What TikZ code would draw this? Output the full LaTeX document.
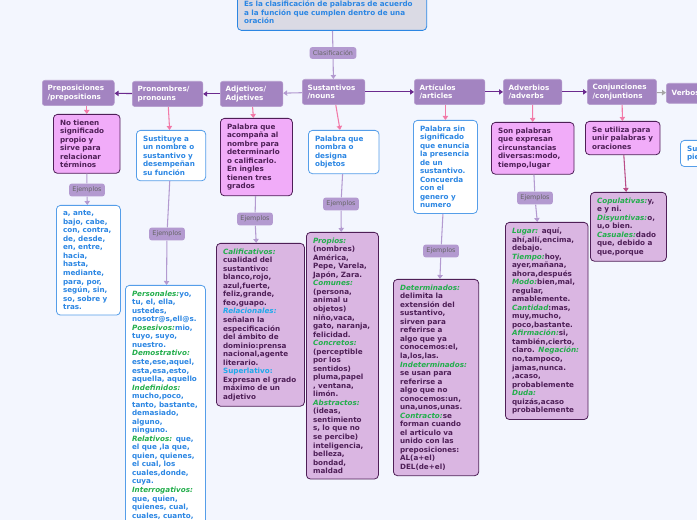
\documentclass[tikz,border=0pt]{standalone}
\usepackage{fontspec}
\setmainfont{DejaVu Sans}
\usetikzlibrary{arrows.meta}
\definecolor{bg}{HTML}{F3F6FE}
\definecolor{main}{HTML}{A384C1}
\definecolor{labc}{HTML}{B39AD0}
\definecolor{pinkf}{HTML}{F1ACF9}
\definecolor{lilac}{HTML}{DAB6E2}
\definecolor{dark}{HTML}{4E1F57}
\definecolor{blu}{HTML}{2B86E3}
\definecolor{grn}{HTML}{23AE4C}
\definecolor{arr}{HTML}{6B2A8E}
\definecolor{pnk}{HTML}{F27AA8}
\newcommand{\gr}[1]{{\color{grn}\itshape #1}}
\newcommand{\cy}[1]{{\color{blu!70!cyan}\itshape #1}}
\tikzset{
  txt/.style={font=\fontsize{5.4}{6.4}\selectfont\bfseries, align=left},
  main/.style={txt, fill=main, draw=main!80, rounded corners=2pt, text=white, inner xsep=4pt, inner ysep=2pt, minimum height=19pt, anchor=north west, text width=#1},
  lab/.style={fill=labc, rounded corners=2pt, text=black!60, font=\fontsize{4.8}{5.5}\selectfont, inner sep=2.5pt},
  pk/.style={txt, fill=pinkf, draw=dark, line width=.6pt, rounded corners=3pt, text=dark, inner xsep=5pt, inner ysep=4pt, anchor=north west, text width=#1},
  wh/.style={txt, fill=white, draw=blu!80, line width=.6pt, rounded corners=3pt, text=blu, inner xsep=5pt, inner ysep=4pt, anchor=north west, text width=#1},
  li/.style={txt, fill=lilac, draw=dark, line width=.6pt, rounded corners=3pt, text=dark, inner xsep=5pt, inner ysep=4pt, anchor=north west, text width=#1},
  darr/.style={-{Triangle[length=3pt,width=4pt]}, draw=arr, line width=.8pt},
  parr/.style={-{Triangle[length=3pt,width=4pt]}, draw=pnk, line width=.8pt},
  larr/.style={-{Triangle[length=3pt,width=4pt]}, draw=labc, line width=.8pt},
  lline/.style={draw=labc, line width=.8pt}
}
\begin{document}
\hyphenpenalty=10000 \exhyphenpenalty=10000
\begin{tikzpicture}[x=0.75pt,y=-0.75pt]
\clip (0,0) rectangle (697,520);
\fill[bg] (0,0) rectangle (697,520);

% top
\node[txt, fill=blue!15!gray!25, draw=blu, line width=.6pt, rounded corners=3pt, text=blu, anchor=north west, text width=132pt, inner xsep=5pt, inner ysep=3pt, minimum height=27pt] (top) at (237,-6) {Es la clasificación de palabras de acuerdo a la función que cumplen dentro de una oración};
\node[lab] (clas) at (333,53) {Clasificación};

% main row
\node[main=39pt] (sus) at (302,79) {Sustantivos\\/nouns};
\node[main=39pt] (adj) at (220,81) {Adjetivos/\\Adjetives};
\node[main=45pt] (pro) at (132,81) {Pronombres/\\pronouns};
\node[main=46pt] (pre) at (42,80) {Preposiciones\\/prepositions};
\node[main=45pt] (art) at (414,79) {Artículos\\/articles};
\node[main=36pt] (adv) at (503,79) {Adverbios\\/adverbs};
\node[main=44pt] (con) at (587,79) {Conjunciones\\/conjuntions};
\node[main=40pt, minimum height=15pt] (ver) at (666,83) {Verbos};

\draw[lline] (top) -- (clas);
\draw[larr] (clas) -- (sus);
\draw[larr] (sus) -- (adj);
\draw[darr] (adj) -- (pro);
\draw[darr] (pro) -- (pre);
\draw[darr] (sus) -- (art);
\draw[darr] (art) -- (adv);
\draw[darr] (adv) -- (con);
\draw[-{Triangle[length=3pt,width=4pt]}, draw=gray!70, line width=.8pt] (con) -- (ver);

% preposiciones
\node[pk=40pt] (pred) at (53,114) {No tienen significado propio y sirve para relacionar términos};
\node[lab] (pree) at (87,190) {Ejemplos};
\node[wh=38pt] (prex) at (56,205) {a, ante, bajo, cabe, con, contra, de, desde, en, entre, hacia, hasta, mediante, para, por, según, sin, so, sobre y tras.};
\draw[parr] (pre.south -| pred) -- (pred);
\draw[lline] (pred) -- (pree);
\draw[larr] (pree) -- (prex);

% pronombres
\node[wh=42pt] (prod) at (136,130) {Sustituye a un nombre o sustantivo y desempeñan su función};
\node[lab] (proe) at (167,234) {Ejemplos};
\node[wh=50pt] (prox) at (125,285) {\gr{Personales:}yo, tu, el, ella, ustedes, nosotr@s,ell@s. \gr{Posesivos:}mio, tuyo, suyo, nuestro. \gr{Demostrativo:} este,ese,aquel, esta,esa,esto, aquella, aquello \gr{Indefinidos:} mucho,poco, tanto, bastante, demasiado, alguno, ninguno. \gr{Relativos:} que, el que ,la que, quien, quienes, el cual, los cuales,donde, cuya. \gr{Interrogativos:} que, quien, quienes, cual, cuales, cuanto, cuantos};
\draw[parr] (pro) -- (prod);
\draw[lline] (prod) -- (proe);
\draw[larr] (proe) -- (prox);

% adjetivos
\node[pk=44pt] (adjd) at (220,118) {Palabra que acompaña al nombre para determinarlo o calificarlo. En ingles tienen tres grados};
\node[lab] (adje) at (255,219) {Ejemplos};
\node[li=56pt] (adjx) at (216,243) {\gr{Calificativos:} cualidad del sustantivo: blanco,rojo, azul,fuerte, feliz,grande, feo,guapo. \cy{Relacionales:} señalan la especificación del ámbito de dominio:prensa nacional,agente literario. {\color{blu!70!cyan}Superlativo:} Expresan el grado máximo de un adjetivo};
\draw[parr] (adj) -- (adjd);
\draw[lline] (adjd) -- (adje);
\draw[larr] (adje) -- (adjx);

% sustantivos
\node[wh=43pt] (susd) at (308,130) {Palabra que nombra o designa objetos};
\node[lab] (suse) at (341,204) {Ejemplos};
\node[li=44pt] (susx) at (306,232) {\gr{Propios:} (nombres) América, Pepe, Varela, Japón, Zara. \gr{Comunes:} (persona, animal u objetos) niño,vaca, gato, naranja, felicidad. \gr{Concretos:} (perceptible por los sentidos) pluma,papel , ventana, limón. \gr{Abstractos:} (ideas, sentimiento s, lo que no se percibe) inteligencia, belleza, bondad, maldad};
\draw[parr] (sus) -- (susd);
\draw[lline] (susd) -- (suse);
\draw[larr] (suse) -- (susx);

% articulos
\node[wh=38pt] (artd) at (413,120) {Palabra sin significado que enuncia la presencia de un sustantivo. Concuerda con el genero y numero};
\node[lab] (arte) at (441,251) {Ejemplos};
\node[li=54pt] (artx) at (393,279) {\gr{Determinados:} delimita la extensión del sustantivo, sirven para referirse a algo que ya conocemos:el, la,los,las. \gr{Indeterminados:} se usan para referirse a algo que no conocemos:un, una,unos,unas. \gr{Contracto:}se forman cuando el articulo va unido con las preposiciones: AL(a+el) DEL(de+el)};
\draw[parr] (art.south -| artd) -- (artd);
\draw[lline] (artd) -- (arte);
\draw[larr] (arte) -- (artx);

% adverbios
\node[pk=52pt] (advd) at (491,122) {Son palabras que expresan circunstancias diversas:modo, tiempo,lugar};
\node[lab] (adve) at (535,198) {Ejemplos};
\node[li=52pt] (advx) at (505,222) {\gr{Lugar:} aquí, ahí,allí,encima, debajo. \gr{Tiempo:}hoy, ayer,mañana, ahora,después \gr{Modo:}bien,mal, regular, amablemente. \gr{Cantidad}:mas, muy,mucho, poco,bastante. \gr{Afirmación:}si, también,cierto, claro. \gr{Negación:} no,tampoco, jamas,nunca. ,acaso, probablemente \gr{Duda:} quizás,acaso probablemente};
\draw[parr] (adv) -- (advd);
\draw[lline] (advd) -- (adve);
\draw[larr] (adve) -- (advx);

% conjunciones
\node[pk=46pt] (cond) at (585,121) {Se utiliza para unir palabras y oraciones};
\node[li=47pt] (conx) at (590,192) {\gr{Copulativas:}y, e y ni. \gr{Disyuntivas:}o, u,o bien. \gr{Casuales:}dado que, debido a que,porque};
\draw[parr] (con) -- (cond);
\draw[-{Triangle[length=3pt,width=4pt]}, draw=purple!50!labc, line width=.8pt] (cond) -- (conx);

% verbos
\node[wh=40pt] (verd) at (680,140) {Su palabra\\piensa};
\end{tikzpicture}
\end{document}
